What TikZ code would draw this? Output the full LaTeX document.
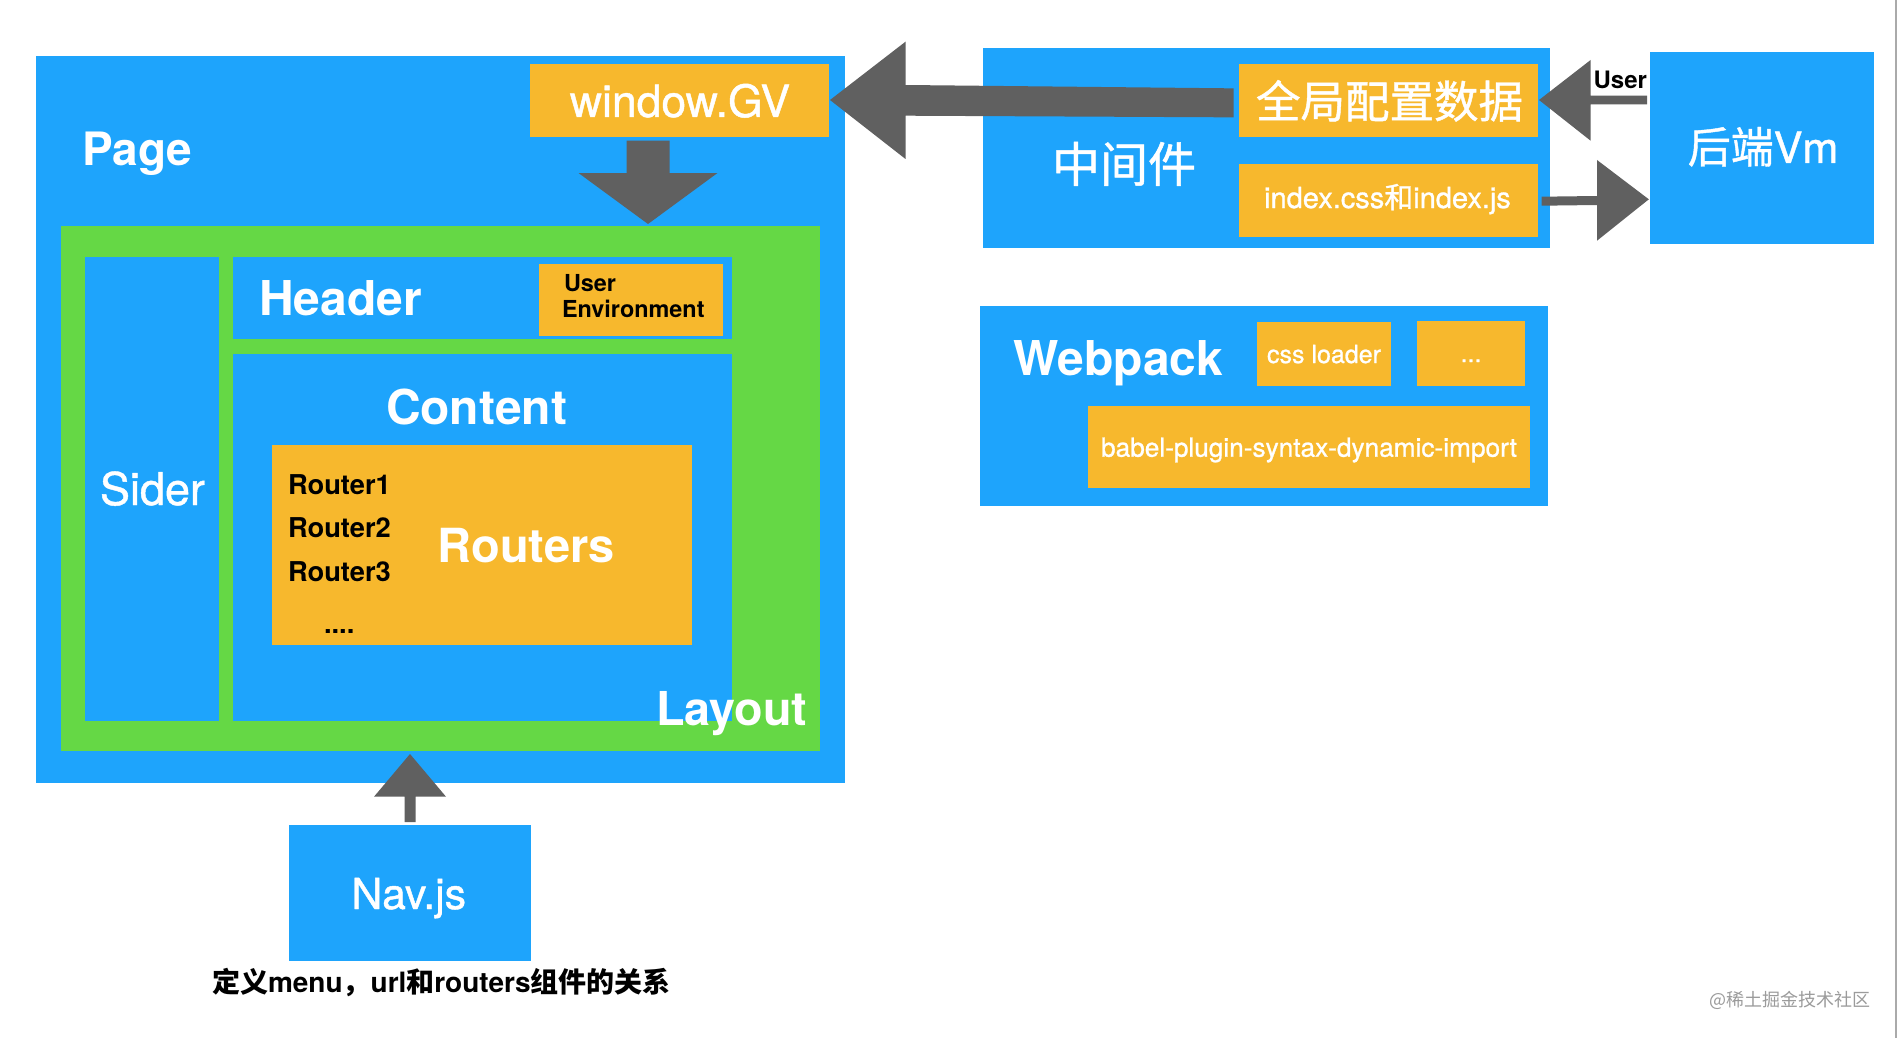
\documentclass[tikz,border=0pt]{standalone}
\usepackage{fontspec}
\setmainfont{TeX Gyre Heros}
\newfontfamily\cjk{Noto Sans CJK SC}
\newfontfamily\hmed{TeX Gyre Heros}[FakeBold=1]
\newfontfamily\cjkmed{Noto Sans CJK SC}[FakeBold=1]
\usetikzlibrary{calc}
\definecolor{bl}{RGB}{30,164,252}
\definecolor{gr}{RGB}{101,216,69}
\definecolor{og}{RGB}{247,184,45}
\definecolor{ar}{RGB}{96,96,96}
\definecolor{wm}{RGB}{155,155,155}
\definecolor{edgegray}{RGB}{170,170,170}
\newcommand\fsz[1]{\fontsize{#1}{#1}\selectfont}
\begin{document}
\begin{tikzpicture}[x=1pt,y=-1pt,
  box/.style 2 args={inner sep=0pt,outer sep=0pt,minimum width=#1pt,minimum height=#2pt,draw=none},
  bbox/.style 2 args={box={#1}{#2},fill=bl},
  gbox/.style 2 args={box={#1}{#2},fill=gr},
  obox/.style 2 args={box={#1}{#2},fill=og},
  txt/.style={inner sep=0pt,outer sep=0pt,text=white},
  btxt/.style={inner sep=0pt,outer sep=0pt,text=black},
  arr/.style={fill=ar,draw=none}]
\useasboundingbox (0,0) rectangle (1898,1038);
\fill[white] (0,0) rectangle (1898,1038);
\coordinate (e1) at (1896,0);
\coordinate (e2) at (1896,1038);
\draw[edgegray,line width=2pt] (e1) -- (e2);

% ---- boxes ----
\node[bbox={809.2}{726.7}] (page) at (440.4,419.35) {};
\node[obox={298.5}{72.7}] (gv) at (679.25,100.35) {};
\node[gbox={759}{524.7}] (layout) at (440.5,488.35) {};
\node[bbox={134}{464}] (sider) at (152,489) {};
\node[bbox={498.5}{82}] (header) at (482.25,298) {};
\node[obox={184}{71.7}] (ue) at (631,299.85) {};
\node[bbox={498.5}{367}] (content) at (482.25,537.5) {};
\node[obox={420}{200}] (routers) at (482,545) {};
\node[bbox={242}{135.7}] (nav) at (410,892.85) {};

\node[bbox={567}{199.7}] (mid) at (1266.5,147.85) {};
\node[obox={299.5}{72.7}] (gq) at (1388.25,100.35) {};
\node[obox={299.5}{72.7}] (idx) at (1388.25,200.35) {};
\node[bbox={224}{191.7}] (vm) at (1762,147.85) {};

\node[bbox={568}{199.7}] (wp) at (1264,405.85) {};
\node[obox={133.9}{63.7}] (css) at (1323.65,353.85) {};
\node[obox={107.5}{64.7}] (dots) at (1470.75,353.35) {};
\node[obox={442}{81.7}] (babel) at (1309,446.85) {};

% ---- arrows ----
% 全局配置数据 -> window.GV
\fill[arr] ($(gv.east)+(1.5,-0.35)$) -- ($(gv.east)+(77,-58.65)$) -- ($(gv.east)+(77,-15.35)$)
  -- ($(gq.west)+(-5,-12)$) -- ($(gq.west)+(-5,17)$) -- ($(gv.east)+(77,15.35)$)
  -- ($(gv.east)+(77,58.65)$) -- cycle;
% window.GV -> Layout
\coordinate (dA) at ($(gv.south)+(-31.25,4)$);
\coordinate (dB) at ($(layout.north)+(207.5,-2)$);
\fill[arr] ($(dA)+(-21.5,0)$) -- ($(dA)+(21.5,0)$) -- ($(dA)+(21.5,32.3)$) -- ($(dA)+(69.5,32.3)$)
  -- (dB) -- ($(dA)+(-69.5,32.3)$) -- ($(dA)+(-21.5,32.3)$) -- cycle;
% Nav.js -> Layout
\coordinate (uA) at ($(nav.north)+(0,-3)$);
\coordinate (uB) at ($(layout.south)+(-30.5,3.3)$);
\fill[arr] ($(uA)+(-5.5,0)$) -- ($(uA)+(5.5,0)$) -- ($(uA)+(5.5,-25.3)$) -- ($(uA)+(36,-25.3)$)
  -- (uB) -- ($(uA)+(-36,-25.3)$) -- ($(uA)+(-5.5,-25.3)$) -- cycle;
% 后端Vm -> 全局配置数据
\coordinate (va) at ($(vm.west|-gq.east)+(-3,-0.35)$);
\coordinate (vb) at ($(gq.east)+(1,-0.35)$);
\fill[arr] ($(va)+(0,-4.3)$) -- ($(va)+(0,4.3)$) -- ($(vb)+(51.6,4.3)$) -- ($(vb)+(51.6,40.7)$)
  -- (vb) -- ($(vb)+(51.6,-40)$) -- ($(vb)+(51.6,-4.3)$) -- cycle;
% index -> 后端Vm
\coordinate (ia) at ($(idx.east)+(3.5,0.85)$);
\coordinate (ib) at ($(vm.west|-idx.east)+(-1.2,-1.05)$);
\fill[arr] ($(ia)+(0,-4.5)$) -- ($(ib)+(-51.8,-3.3)$) -- ($(ib)+(-51.8,-39.3)$) -- (ib)
  -- ($(ib)+(-51.8,41.4)$) -- ($(ib)+(-51.8,5.7)$) -- ($(ia)+(0,4.5)$) -- cycle;

% ---- texts ----
\node[txt,anchor=base west,font=\bfseries\fsz{46}] (tpage) at (82,165) {Page};
\node[txt,anchor=base,font=\hmed\fsz{44.5}] (tgv) at (680,117) {window.GV};
\node[txt,anchor=base west,font=\bfseries\fsz{48}] (theader) at (259,315) {Header};
\node[btxt,anchor=base west,font=\bfseries\fsz{23.4}] (tue1) at (564,291) {User};
\node[btxt,anchor=base west,font=\bfseries\fsz{23.4}] (tue2) at (562,317) {Environment};
\node[txt,anchor=base west,font=\bfseries\fsz{48}] (tcontent) at (386,424) {Content};
\node[txt,anchor=base west,font=\hmed\fsz{45}] (tsider) at (100,505) {Sider};
\node[btxt,anchor=base west,font=\bfseries\fsz{27.3}] (tr1) at (288,494) {Router1};
\node[btxt,anchor=base west,font=\bfseries\fsz{27.3}] (tr2) at (288,537) {Router2};
\node[btxt,anchor=base west,font=\bfseries\fsz{27.3}] (tr3) at (288,581) {Router3};
\node[btxt,anchor=base west,font=\bfseries\fsz{27.3}] (tr4) at (324,633) {....};
\node[txt,anchor=base west,font=\bfseries\fsz{47}] (trouters) at (437.6,562.7) {Routers};
\node[txt,anchor=base west,font=\bfseries\fsz{46.7}] (tlayout) at (656,725.7) {Layout};
\node[txt,anchor=base west,font=\hmed\fsz{42.7}] (tnav) at (351.5,909) {Nav.js};
\node[btxt,anchor=base west,font=\bfseries\fsz{28}] (tcap) at (212,992.7)
  {{\cjk 定义}menu{\cjk ，}url{\cjk 和}routers{\cjk 组件的关系}};

\node[txt,anchor=center,font=\cjkmed\fsz{48}] (tmid) at (1124,163.9) {中间件};
\node[txt,anchor=center,font=\cjkmed\fsz{44.5}] (tgq) at (1389.5,100.85) {全局配置数据};
\node[txt,anchor=base,font=\hmed\fsz{29}] (tidx) at (1387.5,208) {index.css{\cjkmed 和}index.js};
\node[txt,anchor=base,font=\hmed\fsz{43}] (tvm) at (1763,163) {{\cjkmed 后端}Vm};
\node[btxt,anchor=base west,font=\bfseries\fsz{24}] (tuser) at (1593.6,88.3) {User};

\node[txt,anchor=base west,font=\bfseries\fsz{48}] (twp) at (1013.6,375) {Webpack};
\node[txt,anchor=base,font=\hmed\fsz{25}] (tcss) at (1324,363) {css loader};
\node[txt,anchor=base,font=\hmed\fsz{25}] (tdots) at (1471,362) {...};
\node[txt,anchor=base,font=\hmed\fsz{26.2}] (tbabel) at (1309,456.7) {babel-plugin-syntax-dynamic-import};

\node[inner sep=0pt,text=wm,anchor=center,font=\cjk\fsz{18}] (twm) at (1789.5,1000) {@稀土掘金技术社区};
\end{tikzpicture}
\end{document}
